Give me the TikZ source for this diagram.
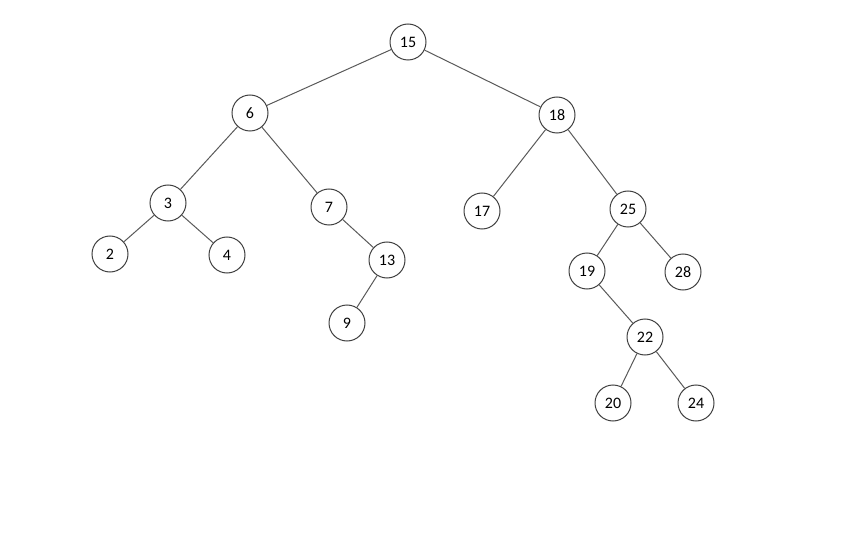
\documentclass[tikz,border=0pt]{standalone}
\usepackage{fontspec}
\setmainfont{Carlito}
\usepackage{tikz}
\tikzstyle{key}=[circle, draw=black!75, fill=white, line width=.75pt, minimum size=27pt, inner sep=0pt, font=\fontsize{12}{12}\selectfont]
\tikzstyle{edge}=[draw=black!65, line width=.75pt]

\begin{document}
\begin{tikzpicture}[x=.75pt, y=-.75pt]
  \useasboundingbox (0,0) rectangle (857,556);
  % keys
  \node[key] (n15) at (408,42) {15};
  \node[key] (n6) at (250,113) {6};
  \node[key] (n18) at (557,115) {18};
  \node[key] (n3) at (168,203) {3};
  \node[key] (n7) at (329,207) {7};
  \node[key] (n17) at (482,211) {17};
  \node[key] (n25) at (628,209) {25};
  \node[key] (n2) at (110,254) {2};
  \node[key] (n4) at (227,255) {4};
  \node[key] (n13) at (387,260) {13};
  \node[key] (n19) at (587,271) {19};
  \node[key] (n28) at (683,272) {28};
  \node[key] (n9) at (347,323) {9};
  \node[key] (n22) at (645,337) {22};
  \node[key] (n20) at (613,403) {20};
  \node[key] (n24) at (696,403) {24};
  % edges
  \foreach \a/\b in {15/6, 15/18, 6/3, 6/7, 3/2, 3/4, 7/13, 13/9,
                     18/17, 18/25, 25/19, 25/28, 19/22, 22/20, 22/24}
    \draw[edge] (n\a) -- (n\b);
\end{tikzpicture}
\end{document}
